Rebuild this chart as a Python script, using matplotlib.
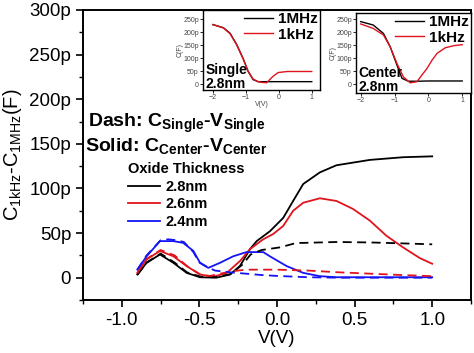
import matplotlib
matplotlib.use("Agg")
import matplotlib.pyplot as plt
from matplotlib.ticker import MultipleLocator

plt.rcParams["font.family"] = ["Liberation Sans", "DejaVu Sans"]
plt.rcParams["mathtext.fontset"] = "custom"
plt.rcParams["mathtext.rm"] = "Liberation Sans"
plt.rcParams["mathtext.bf"] = "Liberation Sans:bold"

# ---- main plot data (y in pF) ----
# solid: C_Center - V_Center
v_28 = [-0.9, -0.84, -0.754, -0.668, -0.582, -0.496, -0.39, -0.303, -0.239, -0.174, -0.131,
        -0.046, 0.04, 0.104, 0.169, 0.276, 0.383, 0.598, 0.812, 1.0]
c_28 = [3.6, 16.7, 26, 16.7, 5.4, 0.5, 0, 3.6, 13, 32, 41,
        52, 67, 86, 105, 118, 126, 132, 135, 136]

v_26 = [-0.9, -0.84, -0.754, -0.668, -0.582, -0.496, -0.41, -0.324, -0.239, -0.174, -0.089,
        -0.024, 0.04, 0.104, 0.169, 0.276, 0.383, 0.49, 0.598, 0.705, 0.812, 0.92, 1.0]
c_26 = [5.4, 20.5, 30, 24, 13, 3.6, 1, 5.4, 18.6, 32, 43,
        49, 58, 75, 84, 89, 86, 77, 64, 47, 34, 22, 15.6]

v_24 = [-0.9, -0.84, -0.754, -0.668, -0.604, -0.539, -0.496, -0.443, -0.367, -0.282, -0.196,
        -0.089, -0.046, 0.062, 0.169, 0.276, 0.383, 0.6, 0.8, 1.0]
c_24 = [9, 24, 41, 41, 39, 30, 16.7, 11, 16.7, 24, 28.7,
        28.7, 24, 13, 5.4, 1.7, 0.5, 0.5, 0.5, 0.5]

# dash: C_Single - V_Single
vd_28 = [-0.9, -0.84, -0.75, -0.66, -0.58, -0.49, -0.4, -0.3, -0.22, -0.17, -0.1,
         0.02, 0.126, 0.169, 0.383, 0.6, 0.8, 1.0]
cd_28 = [3, 17, 27, 17, 6, 1, 0.5, 4, 15, 26, 31,
         34, 39, 39, 40, 39.5, 38.5, 37.4]

vd_26 = [-0.9, -0.84, -0.75, -0.66, -0.58, -0.49, -0.43, -0.3, -0.2, 0.0, 0.2, 0.4, 0.6, 0.8, 1.0]
cd_26 = [5, 21, 31, 25, 13, 3, 2, 7, 9, 9, 8, 6, 4.5, 3, 1.7]

vd_24 = [-0.9, -0.84, -0.75, -0.7, -0.65, -0.6, -0.54, -0.5, -0.45, -0.4, -0.3, -0.2, -0.1, 0.0,
         0.2, 0.4, 0.7, 1.0]
cd_24 = [9, 25, 42, 43, 42, 40, 29, 17, 12, 8, 6, 4.5, 3, 2,
         0.5, 0, 0, 0]

# ---- inset data ----
vi_s_1m = [-2.0, -1.68, -1.48, -1.28, -1.08, -0.93, -0.78, -0.63, -0.3, 0.0, 0.5, 1.0]
ci_s_1m = [229, 217, 196, 153, 98, 49, 18, 10, 10, 10, 10, 10]
vi_s_1k = [-2.0, -1.68, -1.48, -1.28, -1.08, -0.93, -0.78, -0.63, -0.5, -0.37, -0.17, -0.02,
           0.26, 0.6, 1.0]
ci_s_1k = [229, 216, 194, 152, 97, 50, 20, 10, 7, 6, 31, 45,
           49, 49, 49]

vi_c_1m = [-2.0, -1.63, -1.33, -1.13, -0.93, -0.78, -0.59, -0.3, 0.0, 0.5, 1.0]
ci_c_1m = [240, 227, 195, 144, 74, 23, 12, 12, 13, 13, 13]
vi_c_1k = [-2.0, -1.63, -1.33, -1.13, -0.93, -0.74, -0.54, -0.34, -0.19, -0.04, 0.11, 0.26,
           0.5, 0.75, 1.0]
ci_c_1k = [231, 214, 189, 144, 80, 29, 6, 10, 36, 61, 93, 119,
           140, 148, 152]

black = "#000000"
red = "#e0141c"
blue = "#1414f5"

fig = plt.figure(figsize=(4.74, 3.53), dpi=100)
ax = fig.add_axes([83 / 474, 1 - 300 / 353, 388 / 474, 290 / 353])

l1, = ax.plot(v_28, c_28, color=black, lw=1.3)
l2, = ax.plot(v_26, c_26, color=red, lw=1.3)
l3, = ax.plot(v_24, c_24, color=blue, lw=1.3)
ax.plot(vd_28, cd_28, color=black, lw=1.3, ls=(0, (5, 3)))
ax.plot(vd_26, cd_26, color=red, lw=1.3, ls=(0, (5, 3)))
ax.plot(vd_24, cd_24, color=blue, lw=1.3, ls=(0, (5, 3)))

ax.set_xlim(-1.25, 1.25)
ax.set_ylim(-25, 300)
ax.set_xticks([-1.0, -0.5, 0.0, 0.5, 1.0])
ax.set_xticklabels(["-1.0", "-0.5", "0.0", "0.5", "1.0"])
ax.set_yticks([0, 50, 100, 150, 200, 250, 300])
ax.set_yticklabels(["0", "50p", "100p", "150p", "200p", "250p", "300p"])
ax.xaxis.set_minor_locator(MultipleLocator(0.25))
ax.yaxis.set_minor_locator(MultipleLocator(25))
ax.tick_params(which="major", direction="out", length=5, width=1.2, labelsize=13.5)
ax.tick_params(which="minor", direction="out", length=3, width=1.0)
for s in ax.spines.values():
    s.set_linewidth(1.4)
ax.set_xlabel("V(V)", fontsize=13.5, labelpad=1)
ax.set_ylabel(r"C$_{\mathrm{1kHz}}$-C$_{\mathrm{1MHz}}$(F)", fontsize=14.5, labelpad=4)

ax.text(5 / 388, (300 - 123) / 290, r"Dash: C$_{\mathbf{Single}}$-V$_{\mathbf{Single}}$",
        transform=ax.transAxes, fontsize=14, fontweight="bold", va="center")
ax.text(2 / 388, (300 - 147) / 290, r"Solid: C$_{\mathbf{Center}}$-V$_{\mathbf{Center}}$",
        transform=ax.transAxes, fontsize=14, fontweight="bold", va="center")

leg = ax.legend([l1, l2, l3], ["2.8nm", "2.6nm", "2.4nm"], title="Oxide Thickness",
                loc="upper left", bbox_to_anchor=((128 - 83) / 388, (300 - 162) / 290),
                frameon=False, borderpad=0, borderaxespad=0, handlelength=2.2,
                handletextpad=0.35, labelspacing=0.25, alignment="left",
                prop={"weight": "bold", "size": 10.5},
                title_fontproperties={"weight": "bold", "size": 10.5})


def make_inset(rect, v1m, c1m, v1k, c1k, name, xlim, ylim):
    ins = fig.add_axes(rect)
    a, = ins.plot(v1m, c1m, color=black, lw=1.0)
    b, = ins.plot(v1k, c1k, color=red, lw=1.0)
    ins.set_xlim(*xlim)
    ins.set_ylim(*ylim)
    ins.set_xticks([-2, -1, 0, 1])
    ins.set_yticks([0, 50, 100, 150, 200, 250])
    ins.set_yticklabels(["0", "50p", "100p", "150p", "200p", "250p"])
    ins.tick_params(direction="out", length=2, width=0.6, labelsize=5, pad=1,
                    labelcolor="#444444")
    for s in ins.spines.values():
        s.set_linewidth(1.0)
    ins.set_ylabel("C(F)", fontsize=5, labelpad=0, color="#444444")
    ins.legend([a, b], ["1MHz", "1kHz"], loc="upper right", frameon=False,
               borderpad=0.1, borderaxespad=0.05, handlelength=1.9, handletextpad=0.3,
               labelspacing=0.1, prop={"weight": "bold", "size": 11})
    ins.text(0.02, -0.01, name + "\n2.8nm", transform=ins.transAxes, fontsize=10,
             fontweight="bold", va="bottom", ha="left", linespacing=1.0)
    return ins


in1 = make_inset([203 / 474, 1 - 90 / 353, 117 / 474, 80 / 353],
                 vi_s_1m, ci_s_1m, vi_s_1k, ci_s_1k, "Single", (-2.3, 1.25), (-22, 285))
in1.set_xlabel("V(V)", fontsize=5, labelpad=0, color="#444444")
in2 = make_inset([356 / 474, 1 - 93 / 353, 115 / 474, 80 / 353],
                 vi_c_1m, ci_c_1m, vi_c_1k, ci_c_1k, "Center", (-2.14, 1.26), (-33, 273))

fig.savefig("out.png", dpi=100)
